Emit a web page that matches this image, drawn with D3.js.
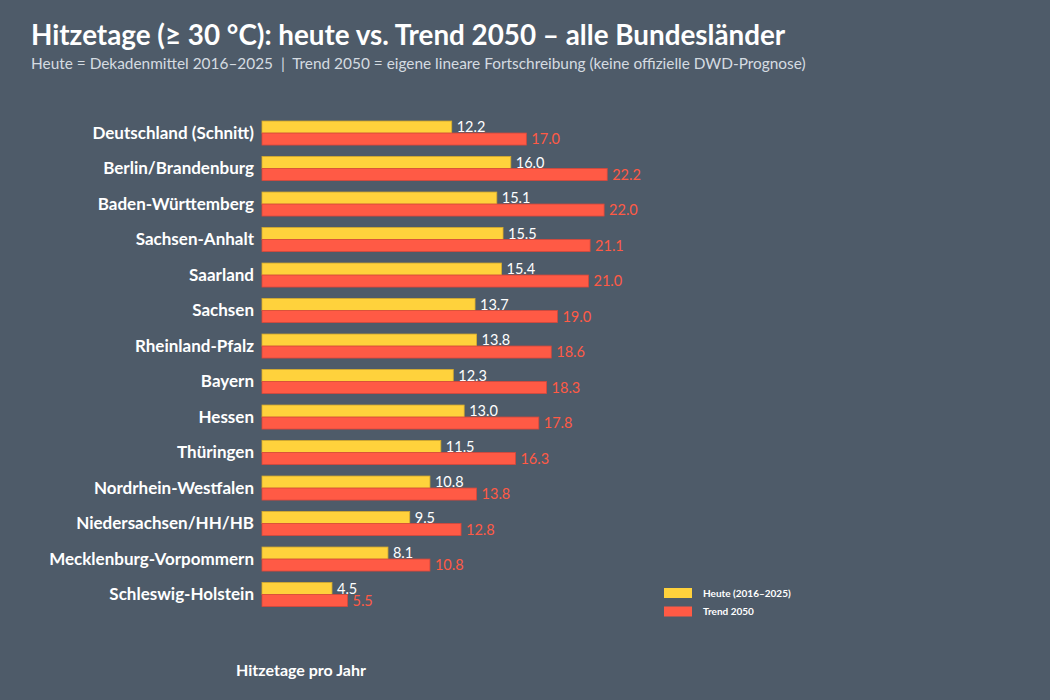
<!DOCTYPE html>
<html><head><meta charset="utf-8">
<script src="https://cdn.jsdelivr.net/npm/d3@7"></script>
<style>
html,body{margin:0;padding:0;background:#4e5b69;}
svg{display:block;}
text{font-family:Lato,"Open Sans",sans-serif;}
</style></head>
<body>
<svg id="chart" width="1050" height="700"></svg>
<script>
const categories = ["Deutschland (Schnitt)","Berlin/Brandenburg","Baden-Württemberg","Sachsen-Anhalt","Saarland","Sachsen","Rheinland-Pfalz","Bayern","Hessen","Thüringen","Nordrhein-Westfalen","Niedersachsen/HH/HB","Mecklenburg-Vorpommern","Schleswig-Holstein"];
const heute = [12.2,16.0,15.1,15.5,15.4,13.7,13.8,12.3,13.0,11.5,10.8,9.5,8.1,4.5];
const trend2050 = [17.0,22.2,22.0,21.1,21.0,19.0,18.6,18.3,17.8,16.3,13.8,12.8,10.8,5.5];
const seriesNames = ["Heute (2016–2025)","Trend 2050"];
const colors = ["#ffd23c","#ff5a45"];
const strokes = ["#d9ad2c","#d9473a"];

const svg = d3.select("#chart");
svg.append("rect").attr("width",1050).attr("height",700).attr("fill","#4e5b69");

svg.append("text").attr("x",31).attr("y",45).attr("fill","#fff")
  .attr("font-size",27.8).attr("font-weight","bold")
  .text("Hitzetage (≥ 30 °C): heute vs. Trend 2050 – alle Bundesländer");
svg.append("text").attr("x",31).attr("y",68.5).attr("fill","#d5dbe1")
  .attr("font-size",15.4).style("white-space","pre")
  .text("Heute = Dekadenmittel 2016–2025  |  Trend 2050 = eigene lineare Fortschreibung (keine offizielle DWD-Prognose)");

const x = d3.scaleLinear().domain([0,25]).range([262,262+25*15.55]);
const y = d3.scaleBand().domain(categories).range([115.3,612.3]).paddingInner(0.324).paddingOuter(0.162);
const sub = d3.scaleBand().domain([0,1]).range([0,y.bandwidth()]);

const rows = svg.append("g").selectAll("g").data(categories).join("g")
  .attr("transform",d=>`translate(0,${y(d)})`);

rows.append("text").attr("x",254).attr("y",y.bandwidth()/2).attr("dy","0.35em")
  .attr("text-anchor","end").attr("fill","#fff").attr("font-size",17).attr("font-weight","bold")
  .text(d=>d);

[heute,trend2050].forEach((vals,si)=>{
  rows.append("rect")
    .attr("x",x(0)).attr("y",sub(si))
    .attr("width",(d,i)=>x(vals[i])-x(0)).attr("height",sub.bandwidth())
    .attr("fill",colors[si]).attr("stroke",strokes[si]).attr("stroke-width",0.8);
  rows.append("text")
    .attr("x",(d,i)=>x(vals[i])+5).attr("y",sub(si)+sub.bandwidth()/2).attr("dy","0.36em")
    .attr("fill",si===0?"#ffffff":"#ff5a45").attr("font-size",14.5)
    .text((d,i)=>vals[i].toFixed(1));
});

const leg = svg.append("g").attr("transform","translate(664,588)");
seriesNames.forEach((n,i)=>{
  leg.append("rect").attr("x",0).attr("y",i*18.5).attr("width",28).attr("height",10).attr("fill",colors[i]);
  leg.append("text").attr("x",39).attr("y",i*18.5+5).attr("dy","0.35em").attr("fill","#fff")
    .attr("font-size",10).attr("font-weight","bold").text(n);
});

svg.append("text").attr("x",301).attr("y",676).attr("text-anchor","middle").attr("fill","#fff")
  .attr("font-size",16).attr("font-weight","bold").text("Hitzetage pro Jahr");
</script>
</body></html>
